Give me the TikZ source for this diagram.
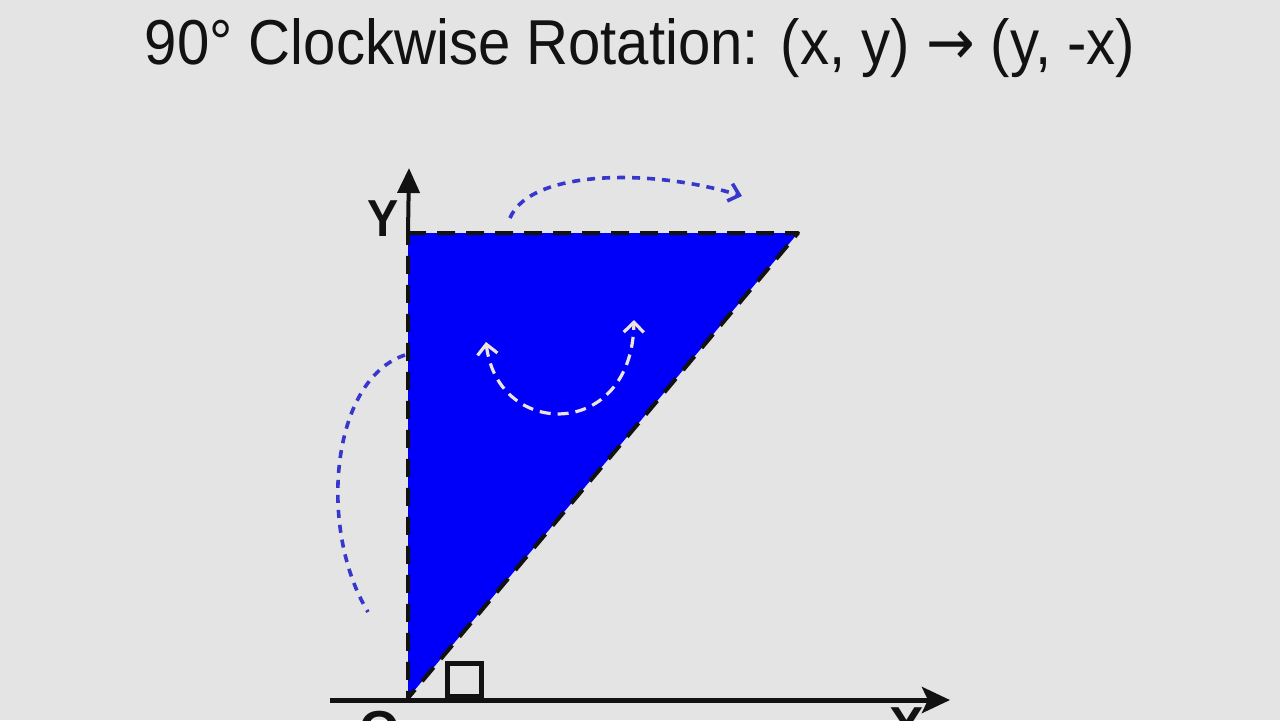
\documentclass[tikz,border=0pt]{standalone}
\usepackage{fontspec}
\setmainfont{Liberation Sans}
\newfontfamily\arrowfont{DejaVu Sans}
\usetikzlibrary{arrows.meta}
\definecolor{bg}{RGB}{228,228,228}
\definecolor{triblue}{RGB}{0,0,250}
\definecolor{arcblue}{RGB}{55,55,205}
\definecolor{arcwhite}{RGB}{236,228,218}
\definecolor{ink}{RGB}{18,18,18}
\tikzset{
  axisline/.style={draw=ink, line width=2pt},
  triedge/.style={draw=ink, line width=2pt, dash pattern=on 9pt off 5.5pt, fill=triblue, line join=round},
  bluearc/.style={draw=arcblue, line width=1.8pt, dash pattern=on 4pt off 3.5pt},
  whitearc/.style={draw=arcwhite, line width=1.6pt, dash pattern=on 5.5pt off 3.5pt},
  axislabel/.style={font=\bfseries\fontsize{26}{28}\selectfont, text=ink, inner sep=0pt},
}
\begin{document}
\begin{tikzpicture}[x=0.5pt,y=-0.5pt]
\useasboundingbox (0,0) rectangle (1280,720);
\clip (0,0) rectangle (1280,720);
\fill[bg] (0,0) rectangle (1280,720);

% title
\node[anchor=base, inner sep=0pt, text=ink] (title) at (640,64)
  {\resizebox{495pt}{23pt}{90° Clockwise Rotation: (x, y) {\arrowfont→} (y, -x)}};

% named points
\coordinate (A) at (408,233);
\coordinate (B) at (798,233);
\coordinate (C) at (408,698);
\coordinate (ytip) at (409,168);
\coordinate (xstart) at (330,700);
\coordinate (xtip) at (950,700);

% triangle
\path[triedge] (A) -- (B) -- (C) -- cycle;

% axes
\draw[axisline, -{Triangle[length=12.5pt,width=11pt]}] (A) -- (ytip);
\draw[line width=2.5pt, draw=ink, -{Stealth[length=14pt,width=13pt,inset=3pt]}] (xstart) -- (xtip);

% right angle marker
\draw[draw=ink, line width=2.5pt, fill=bg] (447,663) rectangle (481,696);

% labels
\node[axislabel, anchor=base] (ylab) at (383,236) {\scalebox{0.9}[1]{Y}};
\node[axislabel, anchor=base] (olab) at (380,747) {O};
\node[axislabel, anchor=base] (xlab) at (907,743) {X};

% blue dashed rotation arcs
\coordinate (t1) at (510,218);
\coordinate (t2) at (742,196);
\draw[bluearc, -{Straight Barb[length=5pt,width=9pt]}] (t1) .. controls (530,170) and (650,168) .. (t2);
\coordinate (l1) at (405,355);
\coordinate (l2) at (368,612);
\draw[bluearc] (l1) .. controls (330,380) and (318,530) .. (l2);

% white dashed arc inside triangle
\coordinate (w1) at (486,342);
\coordinate (w2) at (634,320);
\draw[whitearc, {Straight Barb[length=5pt,width=10pt]}-{Straight Barb[length=5pt,width=10pt]}] (w1) .. controls (498,440) and (632,440) .. (w2);
\end{tikzpicture}
\end{document}
